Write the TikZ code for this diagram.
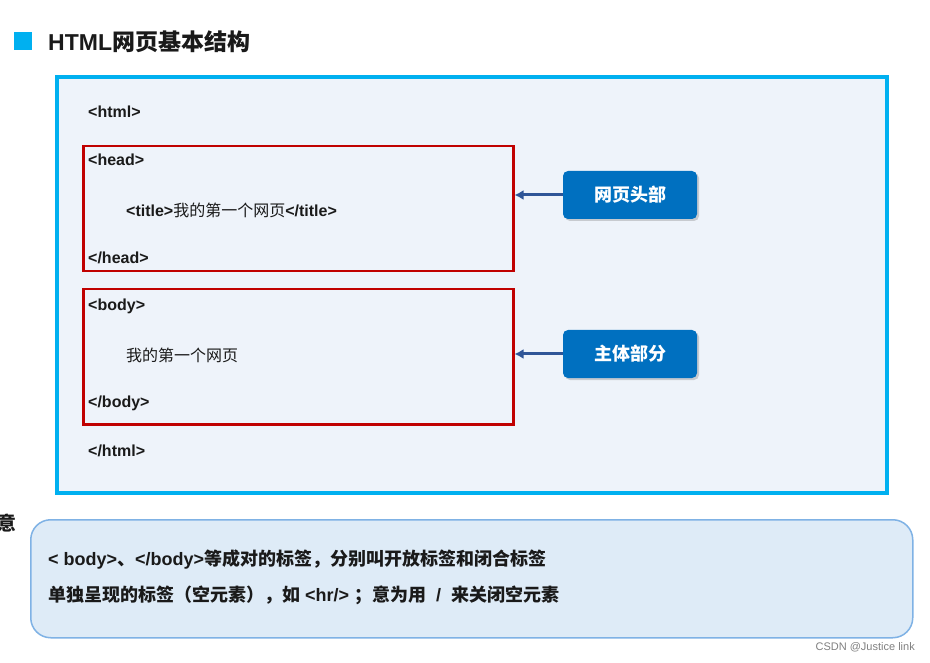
\documentclass[tikz,border=0pt]{standalone}
\usepackage{fontspec}
\usetikzlibrary{shadows,arrows.meta}
\setmainfont{Liberation Sans}
\newfontfamily\cjk{Noto Sans CJK SC}
\definecolor{cyanb}{HTML}{00B0F0}
\definecolor{bgbox}{HTML}{EEF3FA}
\definecolor{redb}{HTML}{C00000}
\definecolor{labb}{HTML}{0070C0}
\definecolor{arr}{HTML}{2F5597}
\definecolor{note}{HTML}{DEEBF7}
\definecolor{noteb}{HTML}{7FB2E5}
\definecolor{txt}{HTML}{1A1A1A}
\tikzset{
  code/.style={anchor=west, font=\fontsize{16}{18}\selectfont\bfseries, text=txt, inner sep=0},
  lab/.style={fill=labb, rounded corners=5pt, text=white, font=\fontsize{18}{20}\selectfont\cjk\bfseries, minimum width=134pt, minimum height=48pt, drop shadow={opacity=0.35, shadow xshift=2pt, shadow yshift=-2pt}},
  redbox/.style={draw=redb, line width=2.5pt},
  ar/.style={draw=arr, line width=3pt, -{Latex[length=9pt,width=10pt]}}
}
\begin{document}
\begin{tikzpicture}[x=1pt,y=-1pt]
\useasboundingbox (0,0) rectangle (930,663);
\fill[white] (0,0) rectangle (930,663);
\fill[cyanb] (14,32) rectangle (32,50);
\node[anchor=west, inner sep=0, font=\fontsize{23}{26}\selectfont\bfseries, text=txt] (title) at (48,42) {HTML{\cjk\bfseries 网页基本结构}};
\node[draw=cyanb, line width=4pt, fill=bgbox, minimum width=830pt, minimum height=416pt, anchor=north west, inner sep=0] (outer) at (55,75) {};
\node[redbox, minimum width=430pt, minimum height=125pt, anchor=north west, inner sep=0] (headbox) at (82,145) {};
\node[redbox, minimum width=430pt, minimum height=135pt, anchor=north west, inner sep=0] (bodybox) at (82,288) {};
\node[code] (t1) at (88,112) {<html>};
\node[code] (t2) at (88,160) {<head>};
\node[code] (t3) at (126,210) {<title>{\mdseries\cjk 我的第一个网页}</title>};
\node[code] (t4) at (88,258) {</head>};
\node[code] (t5) at (88,306) {<body>};
\node[code] (t6) at (126,355) {\mdseries\cjk 我的第一个网页};
\node[code] (t7) at (88,403) {</body>};
\node[code] (t8) at (88,451) {</html>};
\node[lab] (l1) at (630,195) {网页头部};
\node[lab] (l2) at (630,354) {主体部分};
\draw[ar] (l1.west) -- (l1.west -| headbox.east);
\draw[ar] (l2.west) -- (l2.west -| bodybox.east);
\node[anchor=west, inner sep=0, font=\fontsize{19}{20}\selectfont\cjk\bfseries, text=txt] (yi) at (-3,523) {意};
\node[draw=noteb, line width=1.5pt, fill=note, rounded corners=20pt, minimum width=882pt, minimum height=118pt, anchor=north west, inner sep=0] (notebox) at (30,519) {};
\node[anchor=west, inner sep=0, font=\fontsize{18}{20}\selectfont\bfseries, text=txt] (n1) at (48,560) {< body>{\cjk\bfseries 、}</body>{\cjk\bfseries 等成对的标签，分别叫开放标签和闭合标签}};
\node[anchor=west, inner sep=0, font=\fontsize{18}{20}\selectfont\bfseries, text=txt] (n2) at (48,595) {{\cjk\bfseries 单独呈现的标签（空元素），如} <hr/> {\cjk\bfseries ；意为用} \ / \ {\cjk\bfseries 来关闭空元素}};
\node[anchor=east, inner sep=0, font=\fontsize{11}{12}\selectfont, text=gray] (csdn) at (915,647) {CSDN @Justice link};
\end{tikzpicture}
\end{document}
